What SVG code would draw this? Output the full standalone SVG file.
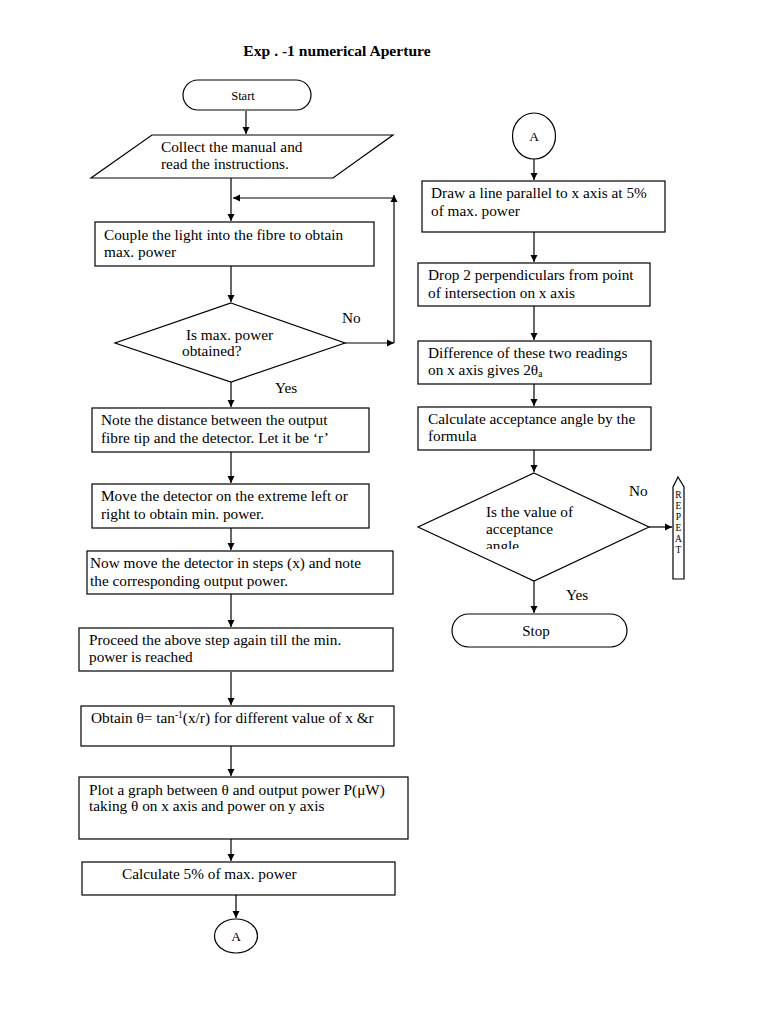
<svg xmlns="http://www.w3.org/2000/svg" width="768" height="1024" viewBox="0 0 768 1024">
<defs>
<marker id="ah" markerWidth="8" markerHeight="8" refX="7" refY="4" orient="auto" markerUnits="userSpaceOnUse">
<path d="M0,0.5 L7,4 L0,7.5 Z" fill="#000"/>
</marker>
<clipPath id="clipAngle"><rect x="410" y="470" width="250" height="79"/></clipPath>
</defs>
<style>
text{font-family:"Liberation Serif","Times New Roman",serif;font-size:15.3px;fill:#000}
.shape{fill:#fff;stroke:#000;stroke-width:1.2}
.conn line,.conn polyline{stroke:#000;stroke-width:1.2;fill:none}
.arr{marker-end:url(#ah)}
.small{font-size:12.5px}
.rep{font-size:9.5px;text-anchor:middle}
</style>
<rect width="768" height="1024" fill="#fff"/>
<text x="337" y="56" text-anchor="middle" font-weight="bold" style="font-size:15.6px">Exp . -1 numerical Aperture</text>

<g class="conn">
<line class="arr" x1="246" y1="111" x2="246" y2="134"/>
<line class="arr" x1="231" y1="178" x2="231" y2="221"/>
<polyline class="arr" points="394,198 233,198"/>
<line class="arr" x1="345" y1="343" x2="394" y2="343"/>
<polyline class="arr" points="394,343 394,195"/>
<line class="arr" x1="231" y1="266" x2="231" y2="302"/>
<line class="arr" x1="231" y1="382" x2="231" y2="407"/>
<line class="arr" x1="231" y1="452" x2="231" y2="483"/>
<line class="arr" x1="231" y1="528" x2="231" y2="550"/>
<line class="arr" x1="231" y1="594" x2="231" y2="627"/>
<line class="arr" x1="231" y1="672" x2="231" y2="705"/>
<line class="arr" x1="231" y1="746" x2="231" y2="776"/>
<line class="arr" x1="231" y1="839" x2="231" y2="861"/>
<line class="arr" x1="236" y1="895" x2="236" y2="918"/>
<line class="arr" x1="534" y1="159" x2="534" y2="180"/>
<line class="arr" x1="534" y1="232" x2="534" y2="262"/>
<line class="arr" x1="534" y1="306" x2="534" y2="340"/>
<line class="arr" x1="534" y1="384" x2="534" y2="406"/>
<line class="arr" x1="534" y1="450" x2="534" y2="472"/>
<line class="arr" x1="649" y1="527" x2="672" y2="527"/>
<line class="arr" x1="534" y1="581" x2="534" y2="613"/>
</g>

<g id="start">
<rect class="shape" x="183" y="80" width="128" height="30" rx="15" ry="15"/>
<text class="small" x="243" y="100" text-anchor="middle">Start</text>
</g>
<g id="collect">
<polygon class="shape" points="152,135 393,135 333,178 91,178"/>
<text x="161" y="152">Collect the manual and</text>
<text x="161" y="169">read the instructions.</text>
</g>
<g id="couple">
<rect class="shape" x="95" y="222" width="279" height="44"/>
<text x="104" y="240">Couple the light into the fibre to obtain</text>
<text x="104" y="257">max. power</text>
</g>
<g id="decision1">
<polygon class="shape" points="231,303 345,343 231,382 115,343"/>
<text x="186" y="340">Is max. power</text>
<text x="182" y="356">obtained?</text>
<text x="342" y="323">No</text>
<text x="275" y="393">Yes</text>
</g>
<g id="note">
<rect class="shape" x="92" y="408" width="277" height="44"/>
<text x="101" y="425">Note the distance between the output</text>
<text x="101" y="443">fibre tip and the detector. Let it be ‘r’</text>
</g>
<g id="move">
<rect class="shape" x="92" y="484" width="277" height="44"/>
<text x="101" y="501">Move the detector on the extreme left or</text>
<text x="101" y="519">right to obtain min. power.</text>
</g>
<g id="now">
<rect class="shape" x="87" y="551" width="306" height="43"/>
<text x="90" y="568">Now move the detector in steps (x) and note</text>
<text x="90" y="586">the corresponding output power.</text>
</g>
<g id="proceed">
<rect class="shape" x="79" y="628" width="314" height="43"/>
<text x="89" y="645">Proceed the above step again till the min.</text>
<text x="89" y="662">power is reached</text>
</g>
<g id="obtain">
<rect class="shape" x="81" y="706" width="313" height="40"/>
<text x="91" y="723">Obtain θ= tan<tspan dy="-5" style="font-size:9.5px">-1</tspan><tspan dy="5">(x/r) for different value of x &amp;r</tspan></text>
</g>
<g id="plot">
<rect class="shape" x="79" y="777" width="329" height="62"/>
<text x="89" y="795">Plot a graph between θ and output power P(μW)</text>
<text x="89" y="811">taking θ on x axis and power on y axis</text>
</g>
<g id="calc5">
<rect class="shape" x="82" y="862" width="313" height="33"/>
<text x="122" y="879">Calculate 5% of max. power</text>
</g>
<g id="connA1">
<ellipse class="shape" cx="236" cy="936" rx="21.5" ry="17"/>
<text x="236" y="941" text-anchor="middle" style="font-size:13.5px">A</text>
</g>

<g id="connA2">
<ellipse class="shape" cx="534" cy="136" rx="21.5" ry="23"/>
<text x="534" y="141" text-anchor="middle" style="font-size:13.5px">A</text>
</g>
<g id="drawline">
<rect class="shape" x="422" y="181" width="243" height="51"/>
<text x="431" y="198">Draw a line parallel to x axis at 5%</text>
<text x="431" y="216">of max. power</text>
</g>
<g id="drop">
<rect class="shape" x="418" y="263" width="232" height="43"/>
<text x="428" y="280">Drop 2 perpendiculars from point</text>
<text x="428" y="298">of intersection on x axis</text>
</g>
<g id="difference">
<rect class="shape" x="418" y="341" width="233" height="43"/>
<text x="428" y="358">Difference of these two readings</text>
<text x="428" y="375">on x axis gives 2θ<tspan dy="2" style="font-size:9.5px">a</tspan></text>
</g>
<g id="acceptance">
<rect class="shape" x="418" y="407" width="233" height="43"/>
<text x="428" y="424">Calculate acceptance angle by the</text>
<text x="428" y="441">formula</text>
</g>
<g id="decision2">
<polygon class="shape" points="534,473 649,527 534,581 418,527"/>
<g clip-path="url(#clipAngle)">
<text x="486" y="517">Is the value of</text>
<text x="486" y="534">acceptance</text>
<text x="486" y="551">angle</text>
</g>
<text x="629" y="496">No</text>
<text x="566" y="600">Yes</text>
</g>
<g id="repeat">
<polygon class="shape" points="678,477 684,487 684,579 673,579 673,487"/>
<text class="rep" x="678.5" y="498">R</text>
<text class="rep" x="678.5" y="509">E</text>
<text class="rep" x="678.5" y="520">P</text>
<text class="rep" x="678.5" y="531">E</text>
<text class="rep" x="678.5" y="542">A</text>
<text class="rep" x="678.5" y="553">T</text>
</g>
<g id="stop">
<rect class="shape" x="452" y="614" width="175" height="33" rx="16.5" ry="16.5"/>
<text x="536" y="636" text-anchor="middle" style="font-size:15px">Stop</text>
</g>
</svg>
